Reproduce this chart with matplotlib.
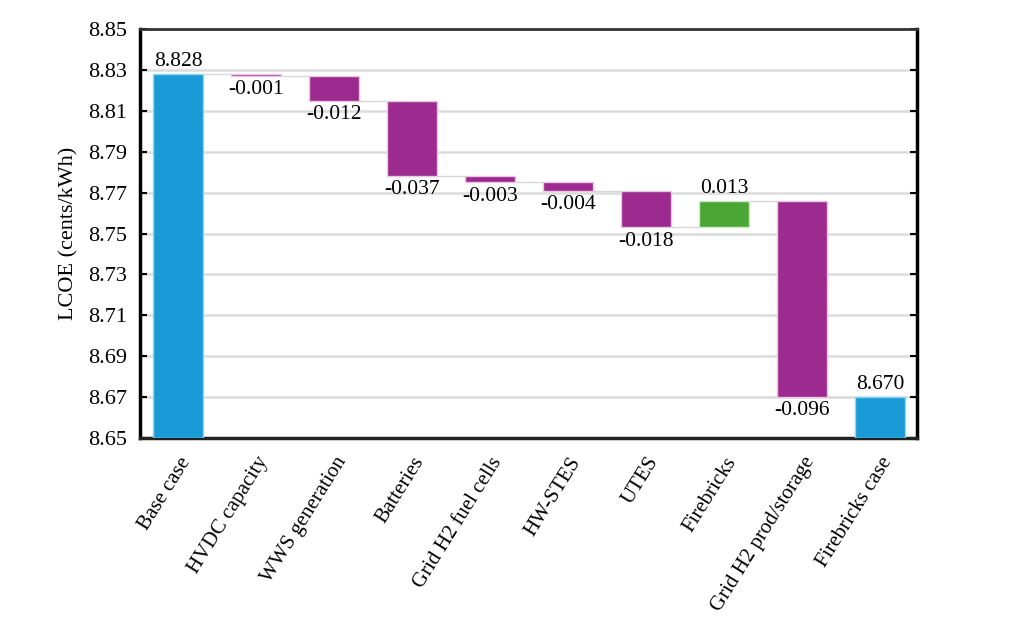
import numpy as np
import matplotlib
matplotlib.use("Agg")
import matplotlib.pyplot as plt
from matplotlib.transforms import ScaledTranslation

plt.rcParams['font.family'] = ['Liberation Serif', 'DejaVu Serif']

categories = ["Base case", "HVDC capacity", "WWS generation", "Batteries",
              "Grid H2 fuel cells", "HW-STES", "UTES", "Firebricks",
              "Grid H2 prod/storage", "Firebricks case"]
base_value = 8.828
changes = [-0.001, -0.012, -0.037, -0.003, -0.004, -0.018, 0.013, -0.096]
final_value = 8.670
yticks = [8.65, 8.67, 8.69, 8.71, 8.73, 8.75, 8.77, 8.79, 8.81, 8.83, 8.85]

blue = '#1a9ad6'
purple = '#9d2a8e'
green = '#4ba636'
ymin = 8.65

fig = plt.figure(figsize=(10.24, 6.31), dpi=100)
ax = fig.add_axes([140 / 1024, 0.3059, 777 / 1024, 0.648])

x = np.arange(len(categories))
w = 0.64

# running totals
level = [base_value]
for c in changes:
    level.append(level[-1] + c)

lab_kw = dict(ha='center', fontsize=15.5)
# totals
ax.bar(x[0], base_value - ymin, bottom=ymin, width=w, color=blue,
       edgecolor='#8fd6f0', linewidth=1, zorder=3)
ax.bar(x[-1], final_value - ymin, bottom=ymin, width=w, color=blue,
       edgecolor='#8fd6f0', linewidth=1, zorder=3)
ax.annotate(f"{base_value:.3f}", (x[0], base_value), xytext=(0, 2),
            textcoords='offset points', va='bottom', **lab_kw)
ax.annotate(f"{final_value:.3f}", (x[-1], final_value), xytext=(0, 2),
            textcoords='offset points', va='bottom', **lab_kw)

for i, c in enumerate(changes):
    xi = x[i + 1]
    start, end = level[i], level[i + 1]
    col = green if c > 0 else purple
    ax.bar(xi, end - start, bottom=start, width=w, color=col,
           edgecolor='#e6c8e4' if c < 0 else '#cfe8c6', linewidth=1, zorder=3)
    if c > 0:
        ax.annotate(f"{c:.3f}", (xi, end), xytext=(0, 2),
                    textcoords='offset points', va='bottom', **lab_kw)
    else:
        ax.annotate(f"{c:.3f}", (xi, end), xytext=(0, -3),
                    textcoords='offset points', va='top', **lab_kw)

# connectors
for i in range(len(level)):
    ax.plot([x[i] + w / 2, x[i + 1] - w / 2], [level[i], level[i]],
            color='#d8d8d8', linewidth=1, zorder=2)

ax.set_xlim(-0.49, len(categories) - 1 + 0.47)
ax.set_ylim(8.65, 8.85)
ax.set_yticks(yticks)
ax.set_yticklabels([f"{v:.2f}" for v in yticks], fontsize=16)
ax.yaxis.grid(True, color='#dcdcdc', linewidth=1.8, zorder=0)
ax.set_axisbelow(True)
ax.set_ylabel("LCOE (cents/kWh)", fontsize=16, labelpad=7)

ax.set_xticks(x)
ax.set_xticklabels(categories, rotation=58, ha='right', rotation_mode='anchor',
                   fontsize=15)
ax.tick_params(axis='x', length=0, pad=4)
off = ScaledTranslation(0.0, -0.1, fig.dpi_scale_trans)
for lbl in ax.get_xticklabels():
    lbl.set_transform(lbl.get_transform() + off)
ax.tick_params(axis='y', direction='in', length=5, width=1.5, pad=9.5,
               right=True)

for s in ['left', 'bottom', 'right']:
    ax.spines[s].set_linewidth(2.5)
    ax.spines[s].set_color('black')
ax.spines['bottom'].set_color('#222222')
ax.spines['top'].set_linewidth(2)
ax.spines['top'].set_color('#333333')

fig.savefig("out.png", dpi=100)
